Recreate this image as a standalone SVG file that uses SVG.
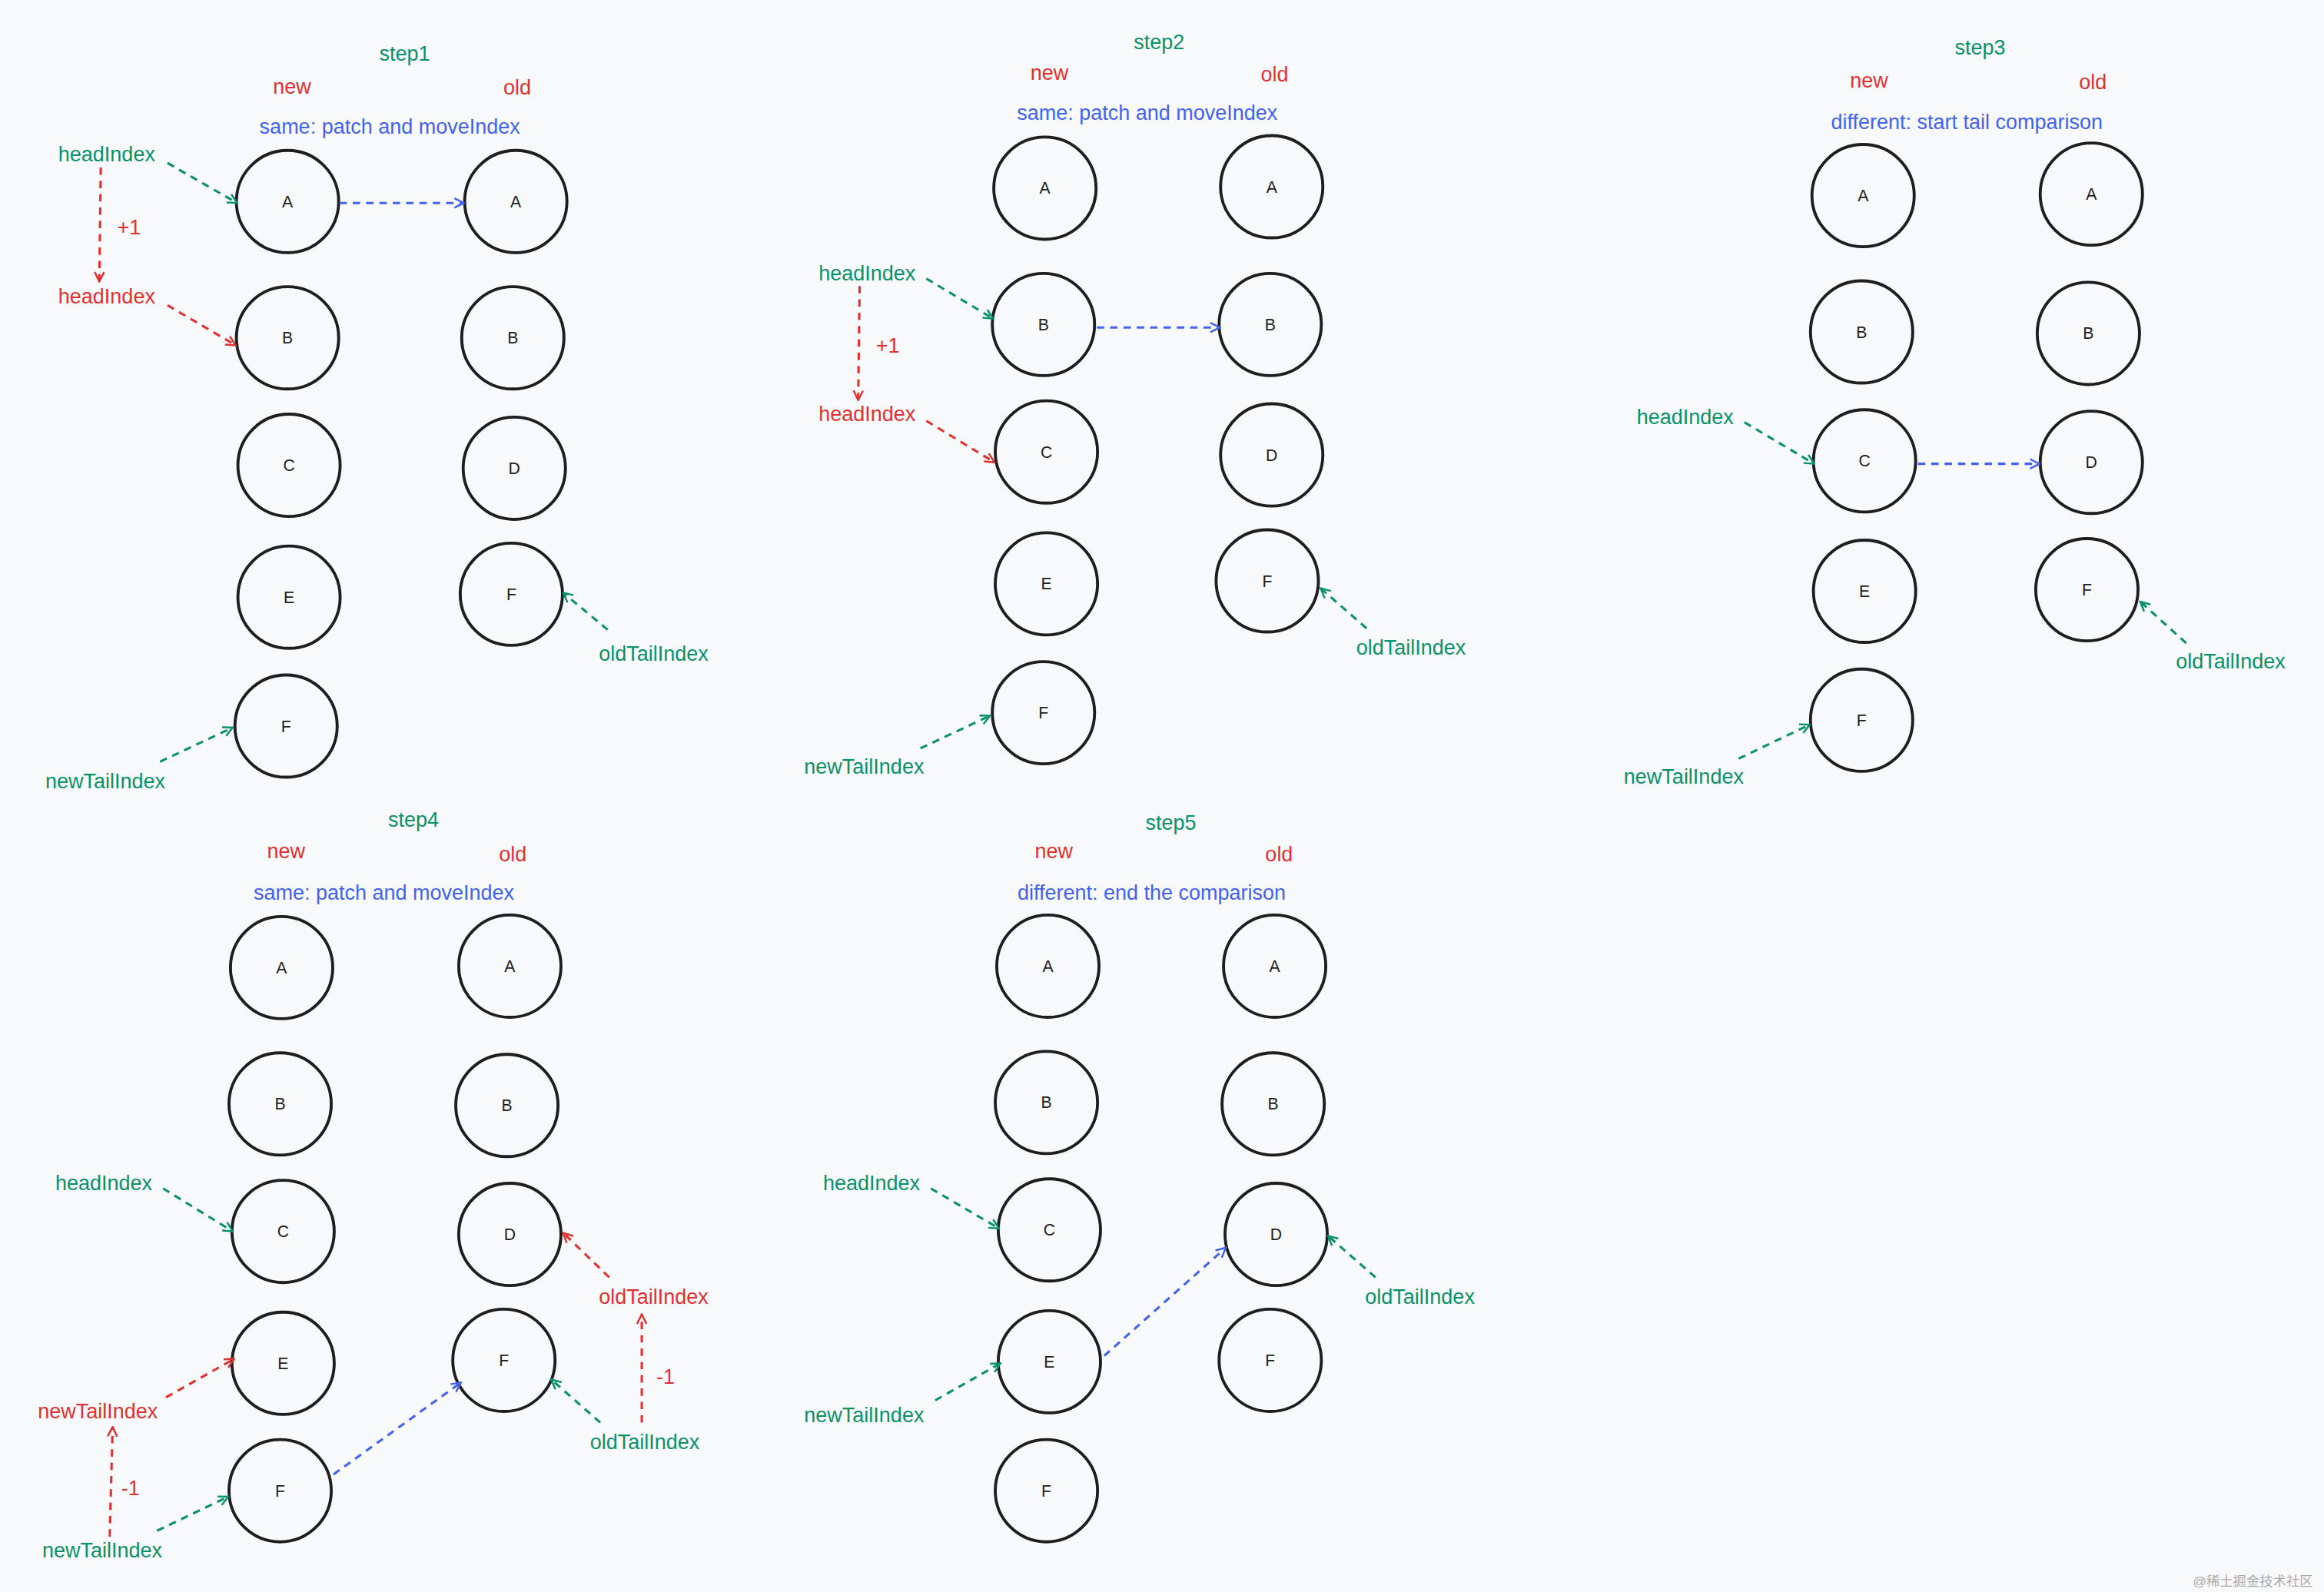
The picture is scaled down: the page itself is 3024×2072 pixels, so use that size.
<svg xmlns="http://www.w3.org/2000/svg" width="3024" height="2072" viewBox="0 0 3024 2072">
<style>
.n circle{fill:none;stroke:#1e1e1e;stroke-width:2}
.n text{font-family:"Liberation Sans",sans-serif;font-size:11px;fill:#1e1e1e;text-anchor:middle;dominant-baseline:central}
text{font-family:"Liberation Sans",sans-serif;font-size:14px;text-anchor:middle}
.g{fill:#099268}.r{fill:#e03131}.b{fill:#4263eb}
.cg,.cr,.cb{fill:none;stroke-width:1.6;stroke-dasharray:5 4}
.cg{stroke:#099268;marker-end:url(#mg)}.cr{stroke:#e03131;marker-end:url(#mr)}.cb{stroke:#4263eb;marker-end:url(#mb)}
</style>
<defs>
<marker id="mg" viewBox="0 0 10 10" refX="9" refY="5" markerWidth="8" markerHeight="8" markerUnits="userSpaceOnUse" orient="auto"><path d="M1 1L9 5L1 9" fill="none" stroke="#099268" stroke-width="1.6"/></marker>
<marker id="mr" viewBox="0 0 10 10" refX="9" refY="5" markerWidth="8" markerHeight="8" markerUnits="userSpaceOnUse" orient="auto"><path d="M1 1L9 5L1 9" fill="none" stroke="#e03131" stroke-width="1.6"/></marker>
<marker id="mb" viewBox="0 0 10 10" refX="9" refY="5" markerWidth="8" markerHeight="8" markerUnits="userSpaceOnUse" orient="auto"><path d="M1 1L9 5L1 9" fill="none" stroke="#4263eb" stroke-width="1.6"/></marker>
</defs>
<rect width="3024" height="2072" fill="#f8f9fa"/>
<g transform="scale(1.9286)">
<g id="labels">
<text x="273" y="41" class="g">step1</text><text x="197" y="63" class="r">new</text><text x="349" y="64" class="r">old</text>
<text x="263" y="90" class="b">same:  patch and moveIndex</text>
<text x="72" y="109" class="g">headIndex</text><text x="72" y="205" class="r">headIndex</text><text x="87" y="158" class="r">+1</text>
<text x="441" y="446" class="g">oldTailIndex</text><text x="71" y="532" class="g">newTailIndex</text>

<text x="782" y="33" class="g">step2</text><text x="708" y="54" class="r">new</text><text x="860" y="55" class="r">old</text>
<text x="774" y="81" class="b">same:  patch and moveIndex</text>
<text x="585" y="189" class="g">headIndex</text><text x="585" y="284" class="r">headIndex</text><text x="599" y="238" class="r">+1</text>
<text x="952" y="442" class="g">oldTailIndex</text><text x="583" y="522" class="g">newTailIndex</text>

<text x="1336" y="37" class="g">step3</text><text x="1261" y="59" class="r">new</text><text x="1412" y="60" class="r">old</text>
<text x="1327" y="87" class="b">different:  start tail comparison</text>
<text x="1137" y="286" class="g">headIndex</text>
<text x="1505" y="451" class="g">oldTailIndex</text><text x="1136" y="529" class="g">newTailIndex</text>

<text x="279" y="558" class="g">step4</text><text x="193" y="579" class="r">new</text><text x="346" y="581" class="r">old</text>
<text x="259" y="607" class="b">same:  patch and moveIndex</text>
<text x="70" y="803" class="g">headIndex</text>
<text x="441" y="880" class="r">oldTailIndex</text><text x="449" y="934" class="r">-1</text>
<text x="435" y="978" class="g">oldTailIndex</text>
<text x="66" y="957" class="r">newTailIndex</text><text x="88" y="1009" class="r">-1</text>
<text x="69" y="1051" class="g">newTailIndex</text>

<text x="790" y="560" class="g">step5</text><text x="711" y="579" class="r">new</text><text x="863" y="581" class="r">old</text>
<text x="777" y="607" class="b">different:  end the comparison</text>
<text x="588" y="803" class="g">headIndex</text>
<text x="958" y="880" class="g">oldTailIndex</text>
<text x="583" y="960" class="g">newTailIndex</text>
<text x="1520" y="1070" style="font-size:9px;fill:#aaa;font-family:'Liberation Sans','Noto Sans CJK SC',sans-serif">@稀土掘金技术社区</text>
</g>
<g id="s1new" class="n"><circle cx="194" cy="136" r="34.5"/><text x="194" y="136">A</text><circle cx="194" cy="228" r="34.5"/><text x="194" y="228">B</text><circle cx="195" cy="314" r="34.5"/><text x="195" y="314">C</text><circle cx="195" cy="403" r="34.5"/><text x="195" y="403">E</text><circle cx="193" cy="490" r="34.5"/><text x="193" y="490">F</text></g>
<g id="s1old" class="n"><circle cx="348" cy="136" r="34.5"/><text x="348" y="136">A</text><circle cx="346" cy="228" r="34.5"/><text x="346" y="228">B</text><circle cx="347" cy="316" r="34.5"/><text x="347" y="316">D</text><circle cx="345" cy="401" r="34.5"/><text x="345" y="401">F</text></g>
<g id="s2new" class="n"><circle cx="705" cy="127" r="34.5"/><text x="705" y="127">A</text><circle cx="704" cy="219" r="34.5"/><text x="704" y="219">B</text><circle cx="706" cy="305" r="34.5"/><text x="706" y="305">C</text><circle cx="706" cy="394" r="34.5"/><text x="706" y="394">E</text><circle cx="704" cy="481" r="34.5"/><text x="704" y="481">F</text></g>
<g id="s2old" class="n"><circle cx="858" cy="126" r="34.5"/><text x="858" y="126">A</text><circle cx="857" cy="219" r="34.5"/><text x="857" y="219">B</text><circle cx="858" cy="307" r="34.5"/><text x="858" y="307">D</text><circle cx="855" cy="392" r="34.5"/><text x="855" y="392">F</text></g>
<g id="s3new" class="n"><circle cx="1257" cy="132" r="34.5"/><text x="1257" y="132">A</text><circle cx="1256" cy="224" r="34.5"/><text x="1256" y="224">B</text><circle cx="1258" cy="311" r="34.5"/><text x="1258" y="311">C</text><circle cx="1258" cy="399" r="34.5"/><text x="1258" y="399">E</text><circle cx="1256" cy="486" r="34.5"/><text x="1256" y="486">F</text></g>
<g id="s3old" class="n"><circle cx="1411" cy="131" r="34.5"/><text x="1411" y="131">A</text><circle cx="1409" cy="225" r="34.5"/><text x="1409" y="225">B</text><circle cx="1411" cy="312" r="34.5"/><text x="1411" y="312">D</text><circle cx="1408" cy="398" r="34.5"/><text x="1408" y="398">F</text></g>
<g id="s4new" class="n"><circle cx="190" cy="653" r="34.5"/><text x="190" y="653">A</text><circle cx="189" cy="745" r="34.5"/><text x="189" y="745">B</text><circle cx="191" cy="831" r="34.5"/><text x="191" y="831">C</text><circle cx="191" cy="920" r="34.5"/><text x="191" y="920">E</text><circle cx="189" cy="1006" r="34.5"/><text x="189" y="1006">F</text></g>
<g id="s4old" class="n"><circle cx="344" cy="652" r="34.5"/><text x="344" y="652">A</text><circle cx="342" cy="746" r="34.5"/><text x="342" y="746">B</text><circle cx="344" cy="833" r="34.5"/><text x="344" y="833">D</text><circle cx="340" cy="918" r="34.5"/><text x="340" y="918">F</text></g>
<g id="s5new" class="n"><circle cx="707" cy="652" r="34.5"/><text x="707" y="652">A</text><circle cx="706" cy="744" r="34.5"/><text x="706" y="744">B</text><circle cx="708" cy="830" r="34.5"/><text x="708" y="830">C</text><circle cx="708" cy="919" r="34.5"/><text x="708" y="919">E</text><circle cx="706" cy="1006" r="34.5"/><text x="706" y="1006">F</text></g>
<g id="s5old" class="n"><circle cx="860" cy="652" r="34.5"/><text x="860" y="652">A</text><circle cx="859" cy="745" r="34.5"/><text x="859" y="745">B</text><circle cx="861" cy="833" r="34.5"/><text x="861" y="833">D</text><circle cx="857" cy="918" r="34.5"/><text x="857" y="918">F</text></g>
<g id="connectors">
<path class="cg" d="M113 110L160 137"/><path class="cr" d="M68 113L67 190"/><path class="cr" d="M113 206L159 233"/>
<path class="cb" d="M229 137L313 137"/><path class="cg" d="M410 425L380 400"/><path class="cg" d="M108 514L157 491"/>
<path class="cg" d="M625 188L670 215"/><path class="cr" d="M580 193L579 270"/><path class="cr" d="M625 284L671 312"/>
<path class="cb" d="M740 221L823 221"/><path class="cg" d="M922 424L891 397"/><path class="cg" d="M621 505L668 483"/>
<path class="cg" d="M1177 285L1224 313"/><path class="cb" d="M1294 313L1376 313"/><path class="cg" d="M1475 434L1444 406"/><path class="cg" d="M1173 512L1221 489"/>
<path class="cg" d="M110 802L157 831"/><path class="cr" d="M411 862L380 832"/><path class="cr" d="M433 960L433 887"/>
<path class="cg" d="M405 960L372 931"/><path class="cb" d="M225 995L311 933"/><path class="cr" d="M112 943L158 917"/>
<path class="cr" d="M74 1037L76 963"/><path class="cg" d="M106 1033L154 1010"/>
<path class="cg" d="M628 802L674 829"/><path class="cg" d="M928 862L896 834"/><path class="cb" d="M745 915L827 842"/><path class="cg" d="M631 945L675 920"/>
</g>
</g>
</svg>
